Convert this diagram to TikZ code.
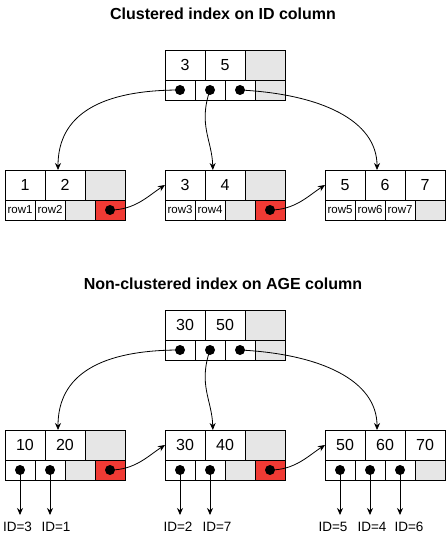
\documentclass[tikz,border=0pt]{standalone}
\usepackage{fontspec}
\setmainfont{Liberation Sans}
\usepackage{xcolor}
\usepackage{tikz}
\usetikzlibrary{arrows.meta}

\definecolor{nilgray}{RGB}{230,230,230}
\definecolor{hotred}{RGB}{240,58,52}

\begin{document}
\begin{tikzpicture}[
            x=1pt, y=-1pt,
            >=Stealth,
            cell/.style={draw, line width=0.9pt, inner sep=0pt, outer sep=0pt, anchor=north west},
            key/.style={cell, minimum width=40pt, minimum height=30pt, font=\fontsize{16}{18}\selectfont},
            ptr/.style={cell, minimum width=30pt, minimum height=20pt, font=\fontsize{11.5}{13}\selectfont},
            nil/.style={fill=nilgray},
            hot/.style={fill=hotred},
            dot/.style={circle, fill=black, inner sep=0pt, minimum size=10pt},
            title/.style={font=\fontsize{16}{19}\selectfont\bfseries},
            idlab/.style={inner sep=0pt, font=\fontsize{13.5}{15}\selectfont},
            link/.style={-{Stealth[length=7pt, width=6pt]}, line width=0.8pt},
            down/.style={link, shorten >=12pt}
        ]
            \useasboundingbox (0,0) rectangle (446,540);

            % ====== Clustered index ======
            \node[title] (ctitle) at (223,14) {Clustered index on ID column};

            % root page
            \node[key] (crk1) at (165,50) {3};
            \node[key] (crk2) at (205,50) {5};
            \node[key, nil] (crk3) at (245,50) {};
            \node[ptr] (crp1) at (165,80) {};
            \node[ptr] (crp2) at (195,80) {};
            \node[ptr] (crp3) at (225,80) {};
            \node[ptr, nil] (crp4) at (255,80) {};
            \node[dot] (crd1) at (crp1.center) {};
            \node[dot] (crd2) at (crp2.center) {};
            \node[dot] (crd3) at (crp3.center) {};

            % leaf pages
            \node[key] (c1k1) at (5,170) {1};
            \node[key] (c1k2) at (45,170) {2};
            \node[key, nil] (c1k3) at (85,170) {};
            \node[ptr] (c1p1) at (5,200) {row1};
            \node[ptr] (c1p2) at (35,200) {row2};
            \node[ptr, nil] (c1p3) at (65,200) {};
            \node[ptr, hot] (c1p4) at (95,200) {};
            \node[dot] (c1nx) at (c1p4.center) {};

            \node[key] (c2k1) at (165,170) {3};
            \node[key] (c2k2) at (205,170) {4};
            \node[key, nil] (c2k3) at (245,170) {};
            \node[ptr] (c2p1) at (165,200) {row3};
            \node[ptr] (c2p2) at (195,200) {row4};
            \node[ptr, nil] (c2p3) at (225,200) {};
            \node[ptr, hot] (c2p4) at (255,200) {};
            \node[dot] (c2nx) at (c2p4.center) {};

            \node[key] (c3k1) at (325,170) {5};
            \node[key] (c3k2) at (365,170) {6};
            \node[key] (c3k3) at (405,170) {7};
            \node[ptr] (c3p1) at (325,200) {row5};
            \node[ptr] (c3p2) at (355,200) {row6};
            \node[ptr] (c3p3) at (385,200) {row7};
            \node[ptr, nil] (c3p4) at (415,200) {};

            \draw[link] (crd1.center) .. controls (100,90) and (58,115) .. (c1k2.115);
            \draw[link] (crd2.center) .. controls (198,125) and (212,140) .. (c2k2.129);
            \draw[link] (crd3.center) .. controls (320,94) and (377,120) .. (c3k2.118);
            \draw[link] (c1nx.center) .. controls (135,210) and (148,196) .. (c2k1.west);
            \draw[link] (c2nx.center) .. controls (295,210) and (308,196) .. (c3k1.west);

            % ====== Non-clustered index ======
            \node[title] (ntitle) at (223,284) {Non-clustered index on AGE column};

            % root page
            \node[key] (nrk1) at (165,310) {30};
            \node[key] (nrk2) at (205,310) {50};
            \node[key, nil] (nrk3) at (245,310) {};
            \node[ptr] (nrp1) at (165,340) {};
            \node[ptr] (nrp2) at (195,340) {};
            \node[ptr] (nrp3) at (225,340) {};
            \node[ptr, nil] (nrp4) at (255,340) {};
            \node[dot] (nrd1) at (nrp1.center) {};
            \node[dot] (nrd2) at (nrp2.center) {};
            \node[dot] (nrd3) at (nrp3.center) {};

            % leaf pages
            \node[key] (n1k1) at (5,430) {10};
            \node[key] (n1k2) at (45,430) {20};
            \node[key, nil] (n1k3) at (85,430) {};
            \node[ptr] (n1p1) at (5,460) {};
            \node[ptr] (n1p2) at (35,460) {};
            \node[ptr, nil] (n1p3) at (65,460) {};
            \node[ptr, hot] (n1p4) at (95,460) {};
            \node[dot] (n1d1) at (n1p1.center) {};
            \node[dot] (n1d2) at (n1p2.center) {};
            \node[dot] (n1nx) at (n1p4.center) {};

            \node[key] (n2k1) at (165,430) {30};
            \node[key] (n2k2) at (205,430) {40};
            \node[key, nil] (n2k3) at (245,430) {};
            \node[ptr] (n2p1) at (165,460) {};
            \node[ptr] (n2p2) at (195,460) {};
            \node[ptr, nil] (n2p3) at (225,460) {};
            \node[ptr, hot] (n2p4) at (255,460) {};
            \node[dot] (n2d1) at (n2p1.center) {};
            \node[dot] (n2d2) at (n2p2.center) {};
            \node[dot] (n2nx) at (n2p4.center) {};

            \node[key] (n3k1) at (325,430) {50};
            \node[key] (n3k2) at (365,430) {60};
            \node[key] (n3k3) at (405,430) {70};
            \node[ptr] (n3p1) at (325,460) {};
            \node[ptr] (n3p2) at (355,460) {};
            \node[ptr] (n3p3) at (385,460) {};
            \node[ptr, nil] (n3p4) at (415,460) {};
            \node[dot] (n3d1) at (n3p1.center) {};
            \node[dot] (n3d2) at (n3p2.center) {};
            \node[dot] (n3d3) at (n3p3.center) {};

            \draw[link] (nrd1.center) .. controls (100,350) and (58,375) .. (n1k2.115);
            \draw[link] (nrd2.center) .. controls (198,385) and (212,400) .. (n2k2.129);
            \draw[link] (nrd3.center) .. controls (320,354) and (377,380) .. (n3k2.118);
            \draw[link] (n1nx.center) .. controls (135,470) and (148,456) .. (n2k1.west);
            \draw[link] (n2nx.center) .. controls (295,470) and (308,456) .. (n3k1.west);

            % row ids
            \node[idlab] (id3) at (17.5,527) {ID=3};
            \node[idlab] (id1) at (56,527) {ID=1};
            \node[idlab] (id2) at (178,527) {ID=2};
            \node[idlab] (id7) at (217,527) {ID=7};
            \node[idlab] (id5) at (333,527) {ID=5};
            \node[idlab] (id4) at (372,527) {ID=4};
            \node[idlab] (id6) at (409,527) {ID=6};

            \draw[down] (n1d1.center) -- (n1d1 |- id3.center);
            \draw[down] (n1d2.center) -- (n1d2 |- id1.center);
            \draw[down] (n2d1.center) -- (n2d1 |- id2.center);
            \draw[down] (n2d2.center) -- (n2d2 |- id7.center);
            \draw[down] (n3d1.center) -- (n3d1 |- id5.center);
            \draw[down] (n3d2.center) -- (n3d2 |- id4.center);
            \draw[down] (n3d3.center) -- (n3d3 |- id6.center);
        \end{tikzpicture}
\end{document}
